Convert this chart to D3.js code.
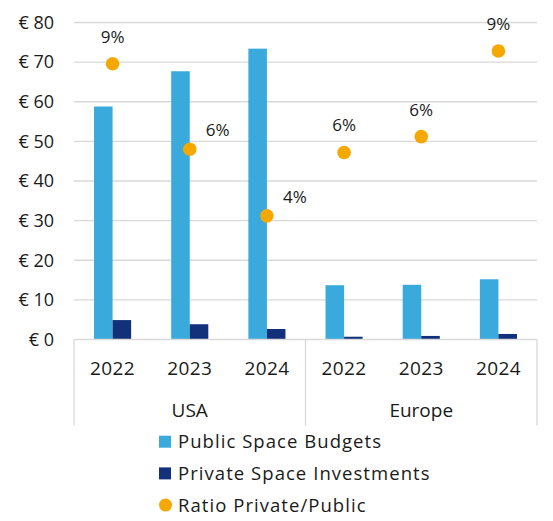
<!DOCTYPE html>
<html>
<head>
<meta charset="utf-8">
<script src="https://cdn.jsdelivr.net/npm/d3@7"></script>
<style>
  html, body { margin: 0; padding: 0; background: #fff; }
  #chart { width: 553px; height: 521px; }
  text { font-family: "Open Sans", Lato, sans-serif; fill: #1a1a1a; }
</style>
</head>
<body>
<div id="chart"></div>
<script>
// Public vs private space spending, grouped by region and year
const regions = ['USA', 'Europe'];
const years = ['2022', '2023', '2024'];
const publicBudgets = [58.8, 67.7, 73.4, 13.7, 13.8, 15.2];
const privateInvestments = [4.9, 3.85, 2.65, 0.7, 0.9, 1.4];
const ratioPrivatePublic = [0.087, 0.060, 0.039, 0.059, 0.064, 0.091];
const yTicks = [0, 10, 20, 30, 40, 50, 60, 70, 80];
const seriesNames = ['Public Space Budgets', 'Private Space Investments', 'Ratio Private/Public'];

const colors = { pub: '#3aaadd', priv: '#12317a', ratio: '#f5a800', grid: '#d9d9d9' };

const width = 553, height = 521;
const margin = { left: 74, right: 16, top: 22.5, bottom: 181.5 };

// one entry per year inside each region
const rows = [];
regions.forEach((r, ri) => years.forEach((yr, yi) => {
  const i = ri * years.length + yi;
  rows.push({ key: r + '-' + yr, region: r, year: yr, pub: publicBudgets[i], priv: privateInvestments[i], ratio: ratioPrivatePublic[i] });
}));

const svg = d3.select('#chart').append('svg')
  .attr('width', width)
  .attr('height', height);

const x = d3.scaleBand()
  .domain(rows.map(d => d.key))
  .range([margin.left, width - margin.right])
  .padding(0);

const xInner = d3.scaleBand()
  .domain(['pub', 'priv'])
  .range([0, x.bandwidth()])
  .paddingInner(0)
  .paddingOuter(1.08);

const y = d3.scaleLinear()
  .domain([0, 80])
  .range([height - margin.bottom, margin.top]);

// hidden secondary axis for the ratio
const y2 = d3.scaleLinear()
  .domain([0, 0.10])
  .range([height - margin.bottom, margin.top]);

// gridlines
svg.append('g')
  .selectAll('line')
  .data(yTicks.filter(t => t > 0))
  .join('line')
  .attr('x1', margin.left)
  .attr('x2', width - margin.right)
  .attr('y1', d => y(d))
  .attr('y2', d => y(d))
  .attr('stroke', colors.grid)
  .attr('stroke-width', 1.3);

// y labels
svg.append('g')
  .selectAll('text')
  .data(yTicks)
  .join('text')
  .attr('x', 54)
  .attr('y', d => y(d))
  .attr('dy', '0.35em')
  .attr('text-anchor', 'end')
  .style('font-size', '18px')
  .text(d => '€ ' + d);

// bars
const group = svg.append('g')
  .selectAll('g')
  .data(rows)
  .join('g')
  .attr('transform', d => `translate(${x(d.key)},0)`);

group.append('rect')
  .attr('x', xInner('pub'))
  .attr('width', xInner.bandwidth())
  .attr('y', d => y(d.pub))
  .attr('height', d => y(0) - y(d.pub))
  .attr('fill', colors.pub);

group.append('rect')
  .attr('x', xInner('priv'))
  .attr('width', xInner.bandwidth())
  .attr('y', d => y(d.priv))
  .attr('height', d => y(0) - y(d.priv))
  .attr('fill', colors.priv);

// category axis (two levels)
const axisG = svg.append('g').attr('stroke', colors.grid).attr('stroke-width', 1.3);
axisG.append('line')
  .attr('x1', margin.left).attr('x2', width - margin.right)
  .attr('y1', y(0)).attr('y2', y(0));

const regionEdges = [margin.left].concat(regions.map((r, ri) => x(rows[(ri + 1) * years.length - 1].key) + x.bandwidth()));
axisG.selectAll('line.sep')
  .data(regionEdges)
  .join('line')
  .attr('class', 'sep')
  .attr('x1', d => d).attr('x2', d => d)
  .attr('y1', y(0)).attr('y2', y(0) + 86);

svg.append('g')
  .selectAll('text')
  .data(rows)
  .join('text')
  .attr('x', d => x(d.key) + x.bandwidth() / 2)
  .attr('y', y(0) + 29)
  .attr('dy', '0.35em')
  .attr('text-anchor', 'middle')
  .style('font-size', '19px')
  .style('letter-spacing', '0.4px')
  .text(d => d.year);

svg.append('g')
  .selectAll('text')
  .data(regions)
  .join('text')
  .attr('x', (r, ri) => (regionEdges[ri] + regionEdges[ri + 1]) / 2)
  .attr('y', y(0) + 71)
  .attr('dy', '0.35em')
  .attr('text-anchor', 'middle')
  .style('font-size', '19px')
  .text(d => d);

// ratio dots + labels
const cx = d => x(d.key) + x.bandwidth() / 2;
svg.append('g')
  .selectAll('circle')
  .data(rows)
  .join('circle')
  .attr('cx', cx)
  .attr('cy', d => y2(d.ratio))
  .attr('r', 6.8)
  .attr('fill', colors.ratio);

// put the label to the right when the dot sits inside the bar
const sideways = d => y2(d.ratio) > y(d.pub);
svg.append('g')
  .selectAll('text')
  .data(rows)
  .join('text')
  .attr('x', d => sideways(d) ? cx(d) + 28 : cx(d))
  .attr('y', d => sideways(d) ? y2(d.ratio) - 19 : y2(d.ratio) - 27)
  .attr('dy', '0.35em')
  .attr('text-anchor', 'middle')
  .style('font-size', '17px')
  .text(d => d3.format('.0%')(d.ratio));

// legend
const legend = svg.append('g')
  .selectAll('g')
  .data(seriesNames)
  .join('g')
  .attr('transform', (d, i) => `translate(159,${441.7 + i * 31.7})`);

legend.filter((d, i) => i < 2).append('rect')
  .attr('x', 0).attr('y', -6)
  .attr('width', 12).attr('height', 12)
  .attr('fill', (d, i) => i === 0 ? colors.pub : colors.priv);

legend.filter((d, i) => i === 2).append('circle')
  .attr('cx', 6.5).attr('cy', 0).attr('r', 6.5)
  .attr('fill', colors.ratio);

legend.append('text')
  .attr('x', 19)
  .attr('dy', '0.36em')
  .style('font-size', '18.5px')
  .style('letter-spacing', '1.05px')
  .text(d => d);
</script>
</body>
</html>
